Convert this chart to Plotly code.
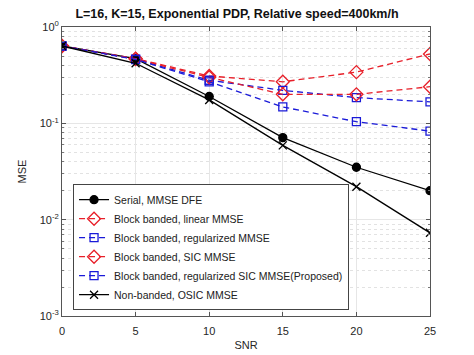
import plotly.graph_objects as go

snr = [0, 5, 10, 15, 20, 25]
serial_dfe = [0.635, 0.47, 0.19, 0.071, 0.035, 0.020]
bb_linear = [0.635, 0.47, 0.31, 0.27, 0.34, 0.525]
bb_reg = [0.635, 0.465, 0.28, 0.22, 0.185, 0.167]
bb_sic = [0.635, 0.465, 0.30, 0.20, 0.20, 0.24]
bb_reg_sic = [0.635, 0.46, 0.27, 0.148, 0.104, 0.083]
osic = [0.635, 0.42, 0.175, 0.059, 0.022, 0.0073]

names = ["Serial, MMSE DFE", "Block banded, linear MMSE",
         "Block banded, regularized MMSE", "Block banded, SIC MMSE",
         "Block banded, regularized SIC MMSE(Proposed)", "Non-banded, OSIC MMSE"]

RED = "#e8202a"
BLUE = "#1a1ad8"

fig = go.Figure()
specs = [
    (serial_dfe, "black", "solid", "circle", 8),
    (bb_linear, RED, "dash", "diamond-open", 10),
    (bb_reg, BLUE, "dash", "square-open", 8),
    (bb_sic, RED, "dash", "diamond-open", 10),
    (bb_reg_sic, BLUE, "dash", "square-open", 8),
    (osic, "black", "solid", "x-thin-open", 8),
]
for name, (vals, col, dash, sym, sz) in zip(names, specs):
    fig.add_trace(go.Scatter(
        x=snr, y=vals, name=name, mode="lines+markers",
        line=dict(color=col, dash=dash if dash == "solid" else "6px,4px", width=1.3),
        marker=dict(symbol=sym, size=sz, color=col,
                    line=dict(color=col, width=1.3)),
    ))

minor_vals = [k * 10.0 ** d for d in (-3, -2, -1) for k in range(2, 10)]

fig.update_layout(
    width=474, height=355,
    margin=dict(l=62, r=44, t=27, b=39),
    paper_bgcolor="white", plot_bgcolor="white",
    font=dict(family="Liberation Sans, Arial, sans-serif", size=11, color="#262626"),
    title=dict(text="<b>L=16, K=15, Exponential PDP, Relative speed=400km/h</b>",
               x=0.5, xanchor="center", y=0.962, yanchor="middle",
               font=dict(size=12.5, color="#111")),
    legend=dict(x=0.03, y=0.02, xanchor="left", yanchor="bottom",
                bordercolor="#444", borderwidth=1, bgcolor="white",
                font=dict(size=10.5, color="#222"), tracegroupgap=0,
                itemwidth=30),
    showlegend=True,
)
fig.update_xaxes(
    range=[0, 25], tickvals=[0, 5, 10, 15, 20, 25],
    title=dict(text="SNR", standoff=5, font=dict(size=11)),
    automargin=False,
    showline=True, linecolor="#555", linewidth=1, mirror="ticks",
    ticks="inside", ticklen=4, tickcolor="#555", ticklabelstandoff=5,
    showgrid=True, gridcolor="#e6e6e6", zeroline=False,
)
fig.update_yaxes(
    type="log", range=[-3, 0],
    tickvals=[1e-3, 1e-2, 1e-1, 1],
    ticktext=["10<sup>-3</sup>", "10<sup>-2</sup>", "10<sup>-1</sup>", "10<sup>0</sup>"],
    title=dict(text="MSE", standoff=10, font=dict(size=11)),
    showline=True, linecolor="#555", linewidth=1, mirror="ticks",
    ticks="inside", ticklen=4, tickcolor="#555",
    showgrid=True, gridcolor="#e6e6e6", zeroline=False,
    minor=dict(tickvals=minor_vals, showgrid=True, gridcolor="#e2e2e2",
               griddash="dot", ticks="inside", ticklen=2, tickcolor="#777"),
)

fig.write_html("out.html")
